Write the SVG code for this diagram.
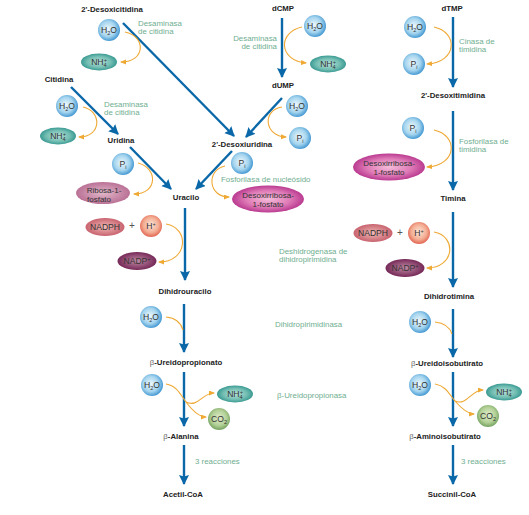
<svg xmlns="http://www.w3.org/2000/svg" width="529" height="515" viewBox="0 0 529 515">
<style>
text{font-family:"Liberation Sans",Arial,sans-serif;}
.t{font-size:7.8px;font-weight:700;fill:#222;text-anchor:middle}
.b{font-weight:400;fill:#666}
.e{font-size:7.9px;fill:#6fae90}
.m{font-size:8.6px;fill:#333;text-anchor:middle}
.s{font-size:8px;fill:#333;text-anchor:middle}
.w{font-size:5.5px}
.a{fill:none;stroke:#0a68a8;stroke-width:2.4;marker-end:url(#ah)}
.o{fill:none;stroke:#efa935;stroke-width:1.1}
.oa{marker-end:url(#oh)}
</style>
<defs>
<radialGradient id="gb" cx="45%" cy="45%" r="58%"><stop offset="0" stop-color="#eef8fc"/><stop offset=".6" stop-color="#a4d4ee"/><stop offset="1" stop-color="#3a92d0"/></radialGradient>
<radialGradient id="gt" cx="50%" cy="50%" r="55%"><stop offset="0" stop-color="#b6e2d8"/><stop offset=".6" stop-color="#72bdb2"/><stop offset="1" stop-color="#2a908a"/></radialGradient>
<radialGradient id="gr" cx="50%" cy="50%" r="55%"><stop offset="0" stop-color="#e2b8ca"/><stop offset="1" stop-color="#b66a90"/></radialGradient>
<radialGradient id="gp" cx="50%" cy="50%" r="55%"><stop offset="0" stop-color="#f4bcd9"/><stop offset=".55" stop-color="#e07cb8"/><stop offset="1" stop-color="#b02a86"/></radialGradient>
<radialGradient id="gn" cx="50%" cy="50%" r="55%"><stop offset="0" stop-color="#f0baB6"/><stop offset="1" stop-color="#c45a68"/></radialGradient>
<radialGradient id="gh" cx="50%" cy="45%" r="58%"><stop offset="0" stop-color="#fce6d8"/><stop offset=".6" stop-color="#f3ac92"/><stop offset="1" stop-color="#df5a48"/></radialGradient>
<radialGradient id="gd" cx="50%" cy="50%" r="55%"><stop offset="0" stop-color="#c08aa4"/><stop offset="1" stop-color="#6e1f50"/></radialGradient>
<radialGradient id="gc" cx="50%" cy="45%" r="58%"><stop offset="0" stop-color="#e2edcc"/><stop offset=".6" stop-color="#b2d096"/><stop offset="1" stop-color="#6c9c58"/></radialGradient>
<marker id="ah" markerUnits="userSpaceOnUse" markerWidth="12" markerHeight="12" refX="9" refY="5" orient="auto"><path d="M0,0 L10,5 L0,10 L1.5,5 Z" fill="#0a68a8"/></marker>
<marker id="oh" markerUnits="userSpaceOnUse" markerWidth="7" markerHeight="6" refX="5" refY="2.5" orient="auto"><path d="M0,0 L6,2.5 L0,5 Z" fill="#efa935"/></marker>
<g id="h2o"><circle r="11" fill="url(#gb)"/><text class="m" y="3"><tspan>H</tspan><tspan class="w" dy="2">2</tspan><tspan dy="-2">O</tspan></text></g>
<g id="pi"><circle r="11" fill="url(#gb)"/><text class="m" y="3"><tspan>P</tspan><tspan class="w" dy="2">i</tspan></text></g>
<g id="nh4"><ellipse rx="18" ry="8.5" fill="url(#gt)"/><text class="m" y="3"><tspan>NH</tspan><tspan class="w" dy="2">4</tspan><tspan class="w" dx="-3" dy="-5">+</tspan></text></g>
<g id="co2"><circle r="11" fill="url(#gc)"/><text class="m" y="3"><tspan>CO</tspan><tspan class="w" dy="2">2</tspan></text></g>
<g id="hp"><circle r="11" fill="url(#gh)"/><text class="m" y="3"><tspan>H</tspan><tspan class="w" dy="-3">+</tspan></text></g>
<g id="nadph"><ellipse rx="19.5" ry="9" fill="url(#gn)"/><text class="m" y="3">NADPH</text></g>
<g id="nadp"><ellipse rx="19.5" ry="9" fill="url(#gd)"/><text class="m" y="3"><tspan>NADP</tspan><tspan class="w" dy="-3">+</tspan></text></g>
<g id="dr"><ellipse rx="36" ry="13.5" fill="url(#gp)"/><text class="s" y="-1">Desoxirribosa-</text><text class="s" y="8">1-fosfato</text></g>
</defs>
<rect width="529" height="515" fill="#fff"/>
<g id="connectors">
<path class="a" d="M123,23 L234,136"/>
<path class="a" d="M71,87 L118,134"/>
<path class="a" d="M130,147 L171,189"/>
<path class="a" d="M282,18 L282,77"/>
<path class="a" d="M282,98 L246,137"/>
<path class="a" d="M232,151 L196,189"/>
<path class="a" d="M185,208 L185,280"/>
<path class="a" d="M184,304 L184,352"/>
<path class="a" d="M184,372 L184,426"/>
<path class="a" d="M184,445 L184,484"/>
<path class="a" d="M453,17 L453,87"/>
<path class="a" d="M453,111 L453,190"/>
<path class="a" d="M453,212 L453,287"/>
<path class="a" d="M453,309 L453,357"/>
<path class="a" d="M453,372 L453,426"/>
<path class="a" d="M453,445 L453,484"/>
<path class="o oa" d="M125,32 C146,36 146,62 121,62"/>
<path class="o oa" d="M83,107 C102,111 102,137 79,137"/>
<path class="o oa" d="M138,163 C158,168 158,194 134,194"/>
<path class="o oa" d="M225,166 C206,170 208,197 229,197"/>
<path class="o oa" d="M302,27 C278,32 278,60 306,63"/>
<path class="o oa" d="M282,107 C262,110 264,136 286,137"/>
<path class="o oa" d="M434,27 C458,32 458,62 427,64"/>
<path class="o oa" d="M434,130 C458,135 458,165 427,167"/>
<path class="o oa" d="M166,224 C190,228 188,262 159,262"/>
<path class="o oa" d="M434,232 C457,236 455,268 427,268"/>
<path class="o" d="M166,317 C176,318 181,323 183,330"/>
<path class="o" d="M435,322 C445,323 450,328 452,334"/>
<path class="o" d="M166,384 C178,386 181,396 186,402"/>
<path class="o oa" d="M186,402 C192,410 200,417 206,417"/>
<path class="o oa" d="M186,402 C198,408 202,393 214,393"/>
<path class="o" d="M435,384 C447,386 450,396 455,401"/>
<path class="o oa" d="M455,401 C461,408 467,414 474,414"/>
<path class="o oa" d="M455,401 C467,406 471,390 483,390"/>
</g>
<g id="n-desoxicitidina"><text class="t" x="112" y="12">2'-Desoxicitidina</text></g>
<g id="n-h2o-1"><use href="#h2o" x="109" y="30"/></g>
<g id="n-nh4-1"><use href="#nh4" x="99" y="62"/></g>
<g id="n-citidina"><text class="t" x="59" y="82">Citidina</text></g>
<g id="n-h2o-2"><use href="#h2o" x="67" y="106"/></g>
<g id="n-nh4-2"><use href="#nh4" x="58" y="136"/></g>
<g id="n-uridina"><text class="t" x="121" y="143">Uridina</text></g>
<g id="n-pi-1"><use href="#pi" x="123" y="164"/></g>
<g id="n-ribosa"><ellipse cx="103" cy="193" rx="27" ry="11" fill="url(#gr)"/><text class="s" x="104" y="193">Ribosa-1-</text><text class="s" x="99" y="202">fosfato</text></g>
<g id="n-uracilo"><text class="t" x="186" y="200">Uracilo</text></g>
<g id="n-desoxiuridina"><text class="t" x="242" y="147">2'-Desoxiuridina</text></g>
<g id="n-pi-2"><use href="#pi" x="242" y="163"/></g>
<g id="n-dr-1"><use href="#dr" x="268" y="199"/></g>
<g id="n-dcmp"><text class="t" x="283" y="11">dCMP</text></g>
<g id="n-h2o-3"><use href="#h2o" x="315" y="26"/></g>
<g id="n-nh4-3"><use href="#nh4" x="328" y="64"/></g>
<g id="n-dump"><text class="t" x="283" y="88">dUMP</text></g>
<g id="n-h2o-4"><use href="#h2o" x="297" y="106"/></g>
<g id="n-pi-3"><use href="#pi" x="300" y="138"/></g>
<g id="n-dtmp"><text class="t" x="452" y="11">dTMP</text></g>
<g id="n-h2o-5"><use href="#h2o" x="415" y="27"/></g>
<g id="n-pi-4"><use href="#pi" x="414" y="64"/></g>
<g id="n-desoxitimidina"><text class="t" x="453" y="98">2'-Desoxitimidina</text></g>
<g id="n-pi-5"><use href="#pi" x="413" y="128"/></g>
<g id="n-dr-2"><use href="#dr" x="389" y="167"/></g>
<g id="n-timina"><text class="t" x="453" y="201">Timina</text></g>
<g id="n-nadph-1"><use href="#nadph" x="105" y="227"/></g>
<g id="n-plus-1"><text x="132" y="229" font-size="10" fill="#555" text-anchor="middle">+</text></g>
<g id="n-hp-1"><use href="#hp" x="151" y="226"/></g>
<g id="n-nadp-1"><use href="#nadp" x="137" y="261"/></g>
<g id="n-dihidrouracilo"><text class="t" x="185" y="294">Dihidrouracilo</text></g>
<g id="n-h2o-6"><use href="#h2o" x="151" y="317"/></g>
<g id="n-ureidopropionato"><text class="t" x="186" y="365"><tspan class="b">β</tspan>-Ureidopropionato</text></g>
<g id="n-h2o-7"><use href="#h2o" x="152" y="385"/></g>
<g id="n-nh4-4"><use href="#nh4" x="235" y="394"/></g>
<g id="n-co2-1"><use href="#co2" x="219" y="419"/></g>
<g id="n-alanina"><text class="t" x="181" y="439"><tspan class="b">β</tspan>-Alanina</text></g>
<g id="n-acetil"><text class="t" x="183" y="497">Acetil-CoA</text></g>
<g id="n-nadph-2"><use href="#nadph" x="373" y="233"/></g>
<g id="n-plus-2"><text x="400" y="236" font-size="10" fill="#555" text-anchor="middle">+</text></g>
<g id="n-hp-2"><use href="#hp" x="419" y="233"/></g>
<g id="n-nadp-2"><use href="#nadp" x="405" y="268"/></g>
<g id="n-dihidrotimina"><text class="t" x="449" y="299">Dihidrotimina</text></g>
<g id="n-h2o-8"><use href="#h2o" x="420" y="322"/></g>
<g id="n-ureidoisobutirato"><text class="t" x="447" y="366"><tspan class="b">β</tspan>-Ureidoisobutirato</text></g>
<g id="n-h2o-9"><use href="#h2o" x="420" y="385"/></g>
<g id="n-nh4-5"><use href="#nh4" x="504" y="392"/></g>
<g id="n-co2-2"><use href="#co2" x="488" y="416"/></g>
<g id="n-aminoisobutirato"><text class="t" x="445" y="439"><tspan class="b">β</tspan>-Aminoisobutirato</text></g>
<g id="n-succinil"><text class="t" x="452" y="497">Succinil-CoA</text></g>
<g id="enzymes">
<text class="e" x="138" y="26">Desaminasa</text><text class="e" x="138" y="34">de citidina</text>
<text class="e" x="104" y="107">Desaminasa</text><text class="e" x="104" y="115">de citidina</text>
<text class="e" x="277" y="41" text-anchor="end">Desaminasa</text><text class="e" x="277" y="49" text-anchor="end">de citidina</text>
<text class="e" x="459" y="44">Cinasa de</text><text class="e" x="459" y="52">timidina</text>
<text class="e" x="459" y="144">Fosforilasa de</text><text class="e" x="459" y="152">timidina</text>
<text class="e" x="221" y="182">Fosforilasa de nucleósido</text>
<text class="e" x="279" y="254">Deshidrogenasa de</text><text class="e" x="279" y="262">dihidropirimidina</text>
<text class="e" x="275" y="327">Dihidropirimidinasa</text>
<text class="e" x="277" y="398">β-Ureidopropionasa</text>
<text class="e" x="195" y="464">3 reacciones</text>
<text class="e" x="461" y="464">3 reacciones</text>
</g>
</svg>
